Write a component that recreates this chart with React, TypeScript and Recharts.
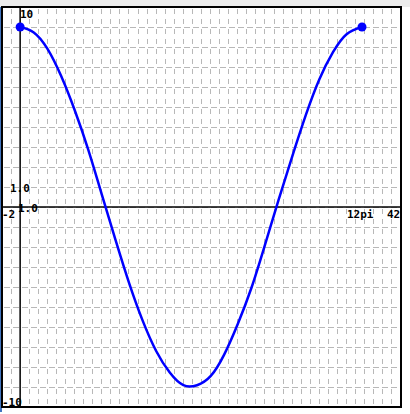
import { ComposedChart, Line, Scatter, XAxis, YAxis, CartesianGrid, ReferenceLine, ReferenceArea } from "recharts";

// curve points (x, y)
const XS = [0, 1.5, 3, 4.5, 6, 7.5, 9, 10.5, 12, 13.5, 15, 16.5, 18, 19.5, 21, 22.5, 24, 25.5, 27, 28.5, 30, 31.5, 33, 34.5, 36, 37.7];
const YS = [10, 9.7, 8.8, 7.3, 5.4, 3.2, 0.7, -1.8, -4.2, -6.3, -8.0, -9.2, -9.9, -9.9, -9.4, -8.2, -6.5, -4.5, -2.1, 0.4, 2.8, 5.1, 7.1, 8.6, 9.6, 10];
const ENDS_X = [0, 37.7];
const ENDS_Y = [10, 10];

const X_MIN = -2;
const X_MAX = 42;
const Y_MAX = 100 / 9;

const curve = XS.map((x, i) => ({ x, y: YS[i] }));
const ends = ENDS_X.map((x, i) => ({ x, y: ENDS_Y[i] }));

// grid: every unit on x, 20 bands on y
const xGrid = Array.from({ length: X_MAX - X_MIN + 1 }, (_, i) => X_MIN + i);
const yGrid = Array.from({ length: 21 }, (_, i) => -Y_MAX + (i * 2 * Y_MAX) / 20);

const BLUE = "#0000ff";
const GRID = "#b8b8b8";
const labelStyle = { fontFamily: "'DejaVu Sans Mono', monospace", fontSize: 11, fontWeight: 700, fill: "#000" };

export default function App() {
  return (
    <div style={{ position: "fixed", left: 0, top: 0, width: 410, height: 414, background: "#fff", overflow: "hidden" }}>
      <div style={{ position: "absolute", left: 0, top: 0, width: 410, height: 7, background: "#ececec" }} />
      <div style={{ position: "absolute", left: 0, top: 7, width: 2, height: 405, background: "#3f74c0" }} />
      <ComposedChart width={410} height={414} data={curve} margin={{ top: 7, left: 2, right: 9, bottom: 7 }}>
        <XAxis dataKey="x" type="number" domain={[X_MIN, X_MAX]} ticks={xGrid} interval={0} hide allowDataOverflow />
        <YAxis type="number" domain={[-Y_MAX, Y_MAX]} ticks={yGrid} interval={0} hide allowDataOverflow />
        <CartesianGrid horizontal={false} stroke={GRID} strokeDasharray="5 5" strokeDashoffset={-2} shapeRendering="crispEdges" />
        <CartesianGrid vertical={false} stroke={GRID} strokeDasharray="6 3" strokeDashoffset={-2} shapeRendering="crispEdges" />
        <ReferenceLine y={0} stroke="#000" strokeWidth={1.5} />
        <ReferenceLine x={0} stroke="#000" strokeWidth={1.5} />
        <ReferenceArea x1={X_MIN} x2={X_MAX} y1={-Y_MAX} y2={Y_MAX} fill="none" stroke="#000" strokeWidth={2} />
        <Line dataKey="y" type="natural" stroke={BLUE} strokeWidth={2.5} dot={false} isAnimationActive={false} />
        <Scatter
          data={ends}
          dataKey="y"
          fill={BLUE}
          isAnimationActive={false}
          shape={(p: any) => <circle cx={p.cx} cy={p.cy} r={4.5} fill={BLUE} />}
        />
      </ComposedChart>
      <svg width={410} height={414} style={{ position: "absolute", left: 0, top: 0, pointerEvents: "none" }}>
        <text x={20} y={18} style={labelStyle}>10</text>
        <text x={10} y={192} style={labelStyle}>1.0</text>
        <text x={18} y={212} style={labelStyle}>1.0</text>
        <text x={2} y={218} style={labelStyle}>-2</text>
        <text x={347} y={218} style={labelStyle}>12pi</text>
        <text x={387} y={218} style={labelStyle}>42</text>
        <text x={2} y={406} style={labelStyle}>-10</text>
      </svg>
    </div>
  );
}
